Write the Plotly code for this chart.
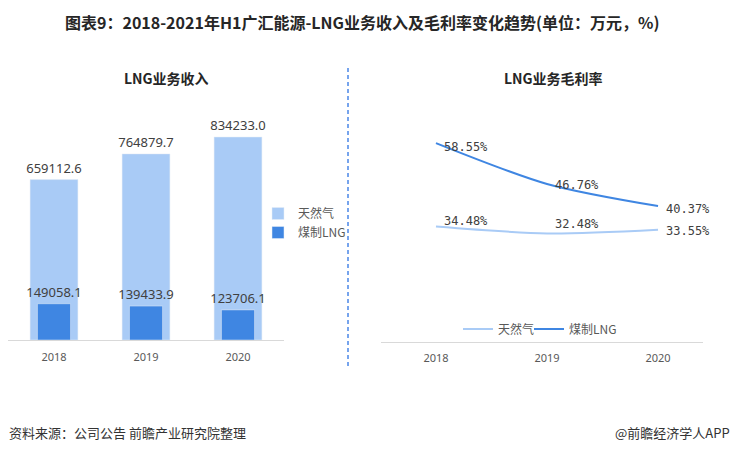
import plotly.graph_objects as go

W, H = 737, 452

years = ["2018", "2019", "2020"]
rev_gas = [659112.6, 764879.7, 834233.0]
rev_coal = [149058.1, 139433.9, 123706.1]
margin_gas = [34.48, 32.48, 33.55]
margin_coal = [58.55, 46.76, 40.37]

LIGHT = "#a9cbf6"
DARK = "#3f86e2"
LBL = "#404040"
AX = "#595959"
CJK = "Noto Sans CJK SC"

def px_x(p):
    return p / W

def px_y(p):
    return 1 - p / H

fig = go.Figure()

# left: revenue bars (overlaid)
fig.add_trace(go.Bar(
    x=years, y=rev_gas, name="天然气", marker_color=LIGHT, width=0.52,
    texttemplate="%{y:.1f}", textposition="outside", constraintext="none",
    textfont=dict(size=13, color=LBL, family="Noto Sans"),
    xaxis="x", yaxis="y", legend="legend", cliponaxis=False,
))
fig.add_trace(go.Bar(
    x=years, y=rev_coal, name="煤制LNG", marker_color=DARK, width=0.36,
    texttemplate="%{y:.1f}", textposition="outside", constraintext="none",
    textfont=dict(size=13, color=LBL, family="Noto Sans"),
    xaxis="x", yaxis="y", legend="legend", cliponaxis=False,
))

# right: margin lines
fig.add_trace(go.Scatter(
    x=years, y=margin_gas, name="天然气", mode="lines",
    line=dict(color=LIGHT, width=2, shape="spline", smoothing=0.8),
    xaxis="x2", yaxis="y2", legend="legend2",
))
fig.add_trace(go.Scatter(
    x=years, y=margin_coal, name="煤制LNG", mode="lines",
    line=dict(color=DARK, width=2, shape="spline", smoothing=0.8),
    xaxis="x2", yaxis="y2", legend="legend3",
))

leg_common = dict(yanchor="middle", xanchor="left", bgcolor="rgba(0,0,0,0)",
                  font=dict(size=12, color=AX, family=CJK))

fig.update_layout(
    width=W, height=H,
    margin=dict(l=0, r=0, t=0, b=0),
    paper_bgcolor="white", plot_bgcolor="white",
    barmode="overlay",
    font=dict(family=CJK, size=12, color=AX),
    xaxis=dict(domain=[px_x(8), px_x(284)], type="category", range=[-0.5, 2.5],
               showgrid=False, showline=True, linecolor="#d9d9d9", linewidth=1,
               ticks="", ticklabelstandoff=7,
               tickfont=dict(size=11, color=AX, family="Noto Sans"),
               anchor="y", fixedrange=True),
    yaxis=dict(domain=[px_y(340), px_y(121)], range=[0, 900000],
               showgrid=False, showticklabels=False, zeroline=False, showline=False,
               anchor="x"),
    xaxis2=dict(domain=[px_x(381), px_x(703)], type="category", range=[-0.495, 2.405],
                showgrid=False, showline=True, linecolor="#d9d9d9", linewidth=1,
                ticks="", ticklabelstandoff=6,
                tickfont=dict(size=11, color=AX, family="Noto Sans"),
                anchor="y2"),
    yaxis2=dict(domain=[px_y(342), px_y(101)], range=[1.15, 70.7],
                showgrid=False, showticklabels=False, zeroline=False, showline=False,
                anchor="x2"),
    legend=dict(x=px_x(258), y=px_y(199), xanchor="left", yanchor="top",
                orientation="v", font=dict(size=12, color=AX, family=CJK),
                bgcolor="rgba(0,0,0,0)", traceorder="normal"),
    legend2=dict(x=px_x(458), y=px_y(329), orientation="h", **leg_common),
    legend3=dict(x=px_x(529), y=px_y(329), orientation="h", **leg_common),
    showlegend=True,
)

annotations = [
    dict(text="<b>图表9：2018-2021年H1广汇能源-LNG业务收入及毛利率变化趋势(单位：万元，%)</b>",
         x=px_x(362), y=px_y(22), font=dict(size=16, color="#262626", family=CJK)),
    dict(text="<b>LNG业务收入</b>", x=px_x(166), y=px_y(78),
         font=dict(size=14, color="#262626", family=CJK)),
    dict(text="<b>LNG业务毛利率</b>", x=px_x(553), y=px_y(78),
         font=dict(size=14, color="#262626", family=CJK)),
    dict(text="资料来源：公司公告 前瞻产业研究院整理", x=px_x(7), y=px_y(432), xanchor="left",
         font=dict(size=13, color="#333333", family=CJK)),
    dict(text="@前瞻经济学人APP", x=px_x(732), y=px_y(432), xanchor="right",
         font=dict(size=13, color="#333333", family=CJK)),
]
for a in annotations:
    a.setdefault("xanchor", "center")
    a.update(xref="paper", yref="paper", yanchor="middle", showarrow=False)

# percentage data labels attached to the line points (x = category index)
label_yshift = {"gas": [6, 9, -1], "coal": [-4, -1, -3]}
for key, vals in (("gas", margin_gas), ("coal", margin_coal)):
    for i, v in enumerate(vals):
        annotations.append(dict(
            text=f"{v:.2f}%", x=i, y=v, xref="x2", yref="y2",
            xanchor="left", yanchor="middle", xshift=6, yshift=label_yshift[key][i],
            showarrow=False,
            font=dict(size=12, color=LBL, family="DejaVu Sans Mono"),
        ))
fig.update_layout(annotations=annotations)

fig.add_shape(type="line", xref="paper", yref="paper",
              x0=px_x(348), x1=px_x(348), y0=px_y(68), y1=px_y(366),
              line=dict(color="#4a86e8", width=1.5, dash="4px,3px"))

fig.write_html("out.html")
